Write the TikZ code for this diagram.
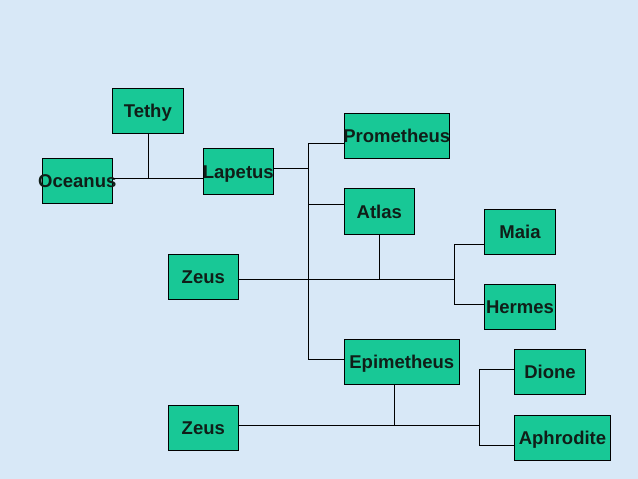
\documentclass[tikz,border=0pt]{standalone}
\usepackage{fontspec}
\setmainfont{Liberation Sans}
\definecolor{bgblue}{RGB}{216,232,247}
\definecolor{boxgreen}{RGB}{24,200,150}
\definecolor{txt}{RGB}{16,30,24}
\newcommand{\nm}[1]{\makebox[0pt][c]{#1}}
\begin{document}
\begin{tikzpicture}[x=1pt,y=-1pt,
  famb/.style={draw=black, line width=1.3pt, fill=boxgreen, inner sep=0pt,
    minimum height=45pt, text height=13.6pt, text depth=0pt, text=txt,
    font=\fontsize{18.5}{20}\selectfont\bfseries},
  conn/.style={draw=black, line width=1.6pt}]
\fill[bgblue] (0,0) rectangle (638,479);
\useasboundingbox (0,0) rectangle (638,479);
% nodes
\node[famb, minimum width=71pt] (tethy) at (147.8,110.8) {\nm{Tethy}};
\node[famb, minimum width=70pt] (oceanus) at (77.3,180.8) {\nm{Oceanus}};
\node[famb, minimum width=70pt, minimum height=46pt] (lapetus) at (238.3,171.3) {\nm{Lapetus}};
\node[famb, minimum width=105pt] (prometheus) at (396.8,135.8) {\nm{Prometheus}};
\node[famb, minimum width=70pt, minimum height=46pt] (atlas) at (379.3,211.3) {\nm{Atlas}};
\node[famb, minimum width=70pt] (zeusa) at (203.3,276.8) {\nm{Zeus}};
\node[famb, minimum width=71pt] (maia) at (520,231.8) {\nm{Maia}};
\node[famb, minimum width=71pt] (hermes) at (520,306.8) {\nm{Hermes}};
\node[famb, minimum width=115pt] (epimetheus) at (401.8,361.8) {\nm{Epimetheus}};
\node[famb, minimum width=70pt] (zeusb) at (203.3,427.8) {\nm{Zeus}};
\node[famb, minimum width=71pt] (dione) at (550,371.8) {\nm{Dione}};
\node[famb, minimum width=96pt] (aphrodite) at (562.5,437.8) {\nm{Aphrodite}};
% junctions
\coordinate (j1) at (148.3,178.3);
\coordinate (a1) at (308.3,168.3);
\coordinate (a2) at (308.3,143.3);
\coordinate (a3) at (308.3,204.3);
\coordinate (a4) at (308.3,359.3);
\coordinate (b1) at (454.3,279.3);
\coordinate (b2) at (454.3,244.3);
\coordinate (b3) at (454.3,304.3);
\coordinate (c0) at (394.3,425.3);
\coordinate (c1) at (479.3,425.3);
\coordinate (c2) at (479.3,369.3);
\coordinate (c3) at (479.3,445.3);
% connectors
\draw[conn] (tethy.south -| j1) -- (j1);
\draw[conn] (j1 -| oceanus.east) -- (j1 -| lapetus.west);
\draw[conn] (a1 -| lapetus.east) -- (a1);
\draw[conn] (a2 -| prometheus.west) -- (a2) -- (a4) -- (a4 -| epimetheus.west);
\draw[conn] (a3) -- (a3 -| atlas.west);
\draw[conn] (b1 -| zeusa.east) -- (b1);
\draw[conn] (atlas.south) -- (atlas.south |- b1);
\draw[conn] (b2 -| maia.west) -- (b2) -- (b3) -- (b3 -| hermes.west);
\draw[conn] (c0 |- epimetheus.south) -- (c0);
\draw[conn] (c1 -| zeusb.east) -- (c1);
\draw[conn] (c2 -| dione.west) -- (c2) -- (c3) -- (c3 -| aphrodite.west);
\end{tikzpicture}
\end{document}
